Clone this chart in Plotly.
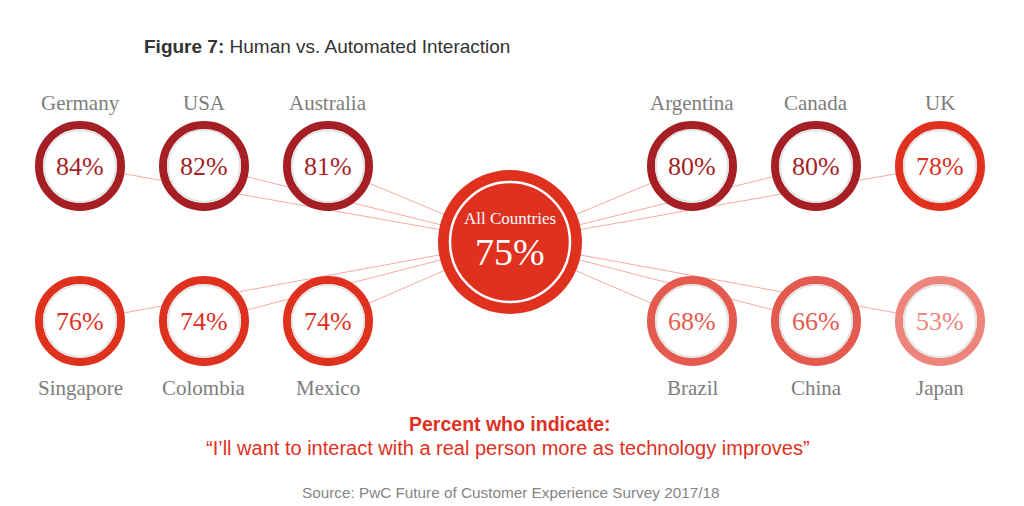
import plotly.graph_objects as go

# ---- data ----
top_countries = ["Germany", "USA", "Australia", "Argentina", "Canada", "UK"]
top_values = [84, 82, 81, 80, 80, 78]
bottom_countries = ["Singapore", "Colombia", "Mexico", "Brazil", "China", "Japan"]
bottom_values = [76, 74, 74, 68, 66, 53]
overall_label = "All Countries"
overall_value = 75

title_bold = "Figure 7:"
title_rest = " Human vs. Automated Interaction"
subtitle_bold = "Percent who indicate:"
subtitle_quote = "\u201cI\u2019ll want to interact with a real person more as technology improves\u201d"
source_text = "Source: PwC Future of Customer Experience Survey 2017/18"

# ---- layout (pixel space) ----
W, H = 1024, 506
col_x = [80, 204, 328, 692, 816, 940]
top_y, bottom_y = 166, 321
cx, cy = 510, 242
ring_r, ring_w = 41, 8
center_r = 72

def tier_color(v):
    if v >= 80:
        return "#a51f24"
    if v >= 70:
        return "#e0301e"
    if v >= 60:
        return "#e55a4e"
    return "#ee857b"

LINE_COLOR = "#f5aaa2"
LABEL_GRAY = "#7d7d7d"
SERIF = "Liberation Serif, Times New Roman, serif"
SANS = "Liberation Sans, Arial, sans-serif"

fig = go.Figure()

# connector lines (behind circles)
for row_y in (top_y, bottom_y):
    for x in col_x:
        fig.add_trace(go.Scatter(
            x=[x, cx], y=[row_y, cy], mode="lines",
            line=dict(color=LINE_COLOR, width=1),
            hoverinfo="skip", showlegend=False))

shapes = []
annotations = []

def add_ring(x, y, value, name, label_y):
    col = tier_color(value)
    shapes.append(dict(type="circle", xref="x", yref="y",
                       x0=x - ring_r, x1=x + ring_r, y0=y - ring_r, y1=y + ring_r,
                       line=dict(color=col, width=ring_w), fillcolor="white", layer="above"))
    shapes.append(dict(type="circle", xref="x", yref="y",
                       x0=x - 36, x1=x + 36, y0=y - 36, y1=y + 36,
                       line=dict(color="#e4e4e4", width=2), fillcolor="rgba(0,0,0,0)", layer="above"))
    annotations.append(dict(x=x, y=y, xref="x", yref="y", text=f"{value}%", showarrow=False,
                            font=dict(family=SERIF, size=26, color=col),
                            xanchor="center", yanchor="middle"))
    annotations.append(dict(x=x, y=label_y, xref="x", yref="y", text=name, showarrow=False,
                            font=dict(family=SERIF, size=21, color=LABEL_GRAY),
                            xanchor="center", yanchor="middle"))

for x, name, v in zip(col_x, top_countries, top_values):
    add_ring(x, top_y, v, name, 103)
for x, name, v in zip(col_x, bottom_countries, bottom_values):
    add_ring(x, bottom_y, v, name, 388)

# center circle
shapes.append(dict(type="circle", xref="x", yref="y",
                   x0=cx - center_r, x1=cx + center_r, y0=cy - center_r, y1=cy + center_r,
                   line=dict(color="#e0301e", width=0), fillcolor="#e0301e", layer="above"))
shapes.append(dict(type="circle", xref="x", yref="y",
                   x0=cx - 60, x1=cx + 60, y0=cy - 60, y1=cy + 60,
                   line=dict(color="white", width=2.5), fillcolor="rgba(0,0,0,0)", layer="above"))
annotations.append(dict(x=cx, y=218, xref="x", yref="y", text=overall_label, showarrow=False,
                        font=dict(family=SERIF, size=17, color="white"),
                        xanchor="center", yanchor="middle"))
annotations.append(dict(x=cx, y=252, xref="x", yref="y", text=f"{overall_value}%", showarrow=False,
                        font=dict(family=SERIF, size=38, color="white"),
                        xanchor="center", yanchor="middle"))

# titles
annotations.append(dict(x=142, y=46, xref="x", yref="y",
                        text=f"<b>{title_bold}</b>{title_rest}", showarrow=False,
                        font=dict(family=SANS, size=19, color="#333333"),
                        xanchor="left", yanchor="middle"))
annotations.append(dict(x=510, y=424, xref="x", yref="y", text=f"<b>{subtitle_bold}</b>",
                        showarrow=False, font=dict(family=SANS, size=19.5, color="#e0301e"),
                        xanchor="center", yanchor="middle"))
annotations.append(dict(x=508, y=448, xref="x", yref="y", text=subtitle_quote,
                        showarrow=False, font=dict(family=SANS, size=20, color="#e0301e"),
                        xanchor="center", yanchor="middle"))
annotations.append(dict(x=510, y=492, xref="x", yref="y", text=source_text,
                        showarrow=False, font=dict(family=SANS, size=15.3, color="#858585"),
                        xanchor="center", yanchor="middle"))

fig.update_layout(
    width=W, height=H, autosize=False,
    margin=dict(l=0, r=0, t=0, b=0),
    paper_bgcolor="white", plot_bgcolor="white",
    xaxis=dict(range=[0, W], visible=False, fixedrange=True),
    yaxis=dict(range=[H, 0], visible=False, fixedrange=True),
    shapes=shapes, annotations=annotations, showlegend=False,
)

fig.write_html("out.html", config={"displayModeBar": False})
